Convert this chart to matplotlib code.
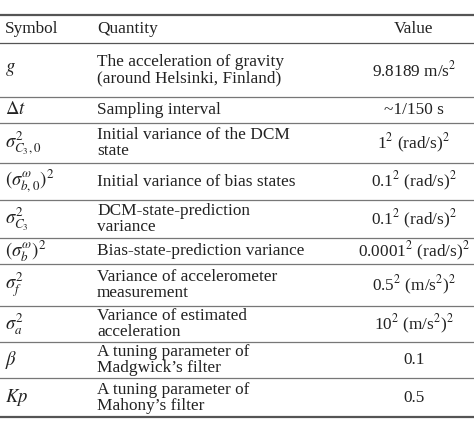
import matplotlib
matplotlib.use("Agg")
import matplotlib.pyplot as plt

plt.rcParams['font.family'] = ['Liberation Serif', 'DejaVu Serif']
plt.rcParams['mathtext.fontset'] = 'stix'

headers = ["Symbol", "Quantity", "Value"]
symbols = [r"$g$", r"$\Delta t$", r"$\sigma^2_{C_3,0}$", r"$(\sigma^{\omega}_{b,0})^2$",
           r"$\sigma^2_{C_3}$", r"$(\sigma^{\omega}_{b})^2$", r"$\sigma^2_f$", r"$\sigma^2_a$",
           r"$\beta$", r"$Kp$"]
quantities = ["The acceleration of gravity\n(around Helsinki, Finland)",
              "Sampling interval",
              "Initial variance of the DCM\nstate",
              "Initial variance of bias states",
              "DCM-state-prediction\nvariance",
              "Bias-state-prediction variance",
              "Variance of accelerometer\nmeasurement",
              "Variance of estimated\nacceleration",
              "A tuning parameter of\nMadgwick\u2019s filter",
              "A tuning parameter of\nMahony\u2019s filter"]
values = [r"9.8189 m/s$^2$", r"~1/150 s", r"1$^2$ (rad/s)$^2$", r"0.1$^2$ (rad/s)$^2$",
          r"0.1$^2$ (rad/s)$^2$", r"0.0001$^2$ (rad/s)$^2$", r"0.5$^2$ (m/s$^2$)$^2$",
          r"10$^2$ (m/s$^2$)$^2$", "0.1", "0.5"]
# row boundaries in pixels (layout)
bounds = [43, 97, 123, 163, 200, 238, 264, 306, 342, 378, 417]

W, H = 474, 445
fig = plt.figure(figsize=(W/100, H/100), dpi=100)
ax = fig.add_axes([0, 0, 1, 1])
ax.set_xlim(0, W); ax.set_ylim(H, 0); ax.axis('off')

fs = 12.4
ax.plot([0, W], [15, 15], color='#555555', lw=1.6)
ax.plot([0, W], [417, 417], color='#555555', lw=1.6)
ax.plot([0, W], [43, 43], color='#555555', lw=0.9)
for b in bounds[1:-1]:
    ax.plot([0, W], [b, b], color='#777777', lw=0.9)

ax.text(5, 29, headers[0], fontsize=fs, va='center', color='#222222')
ax.text(97, 29, headers[1], fontsize=fs, va='center', color='#222222')
ax.text(414, 29, headers[2], fontsize=fs, va='center', ha='center', color='#222222')

for i in range(len(symbols)):
    y0, y1 = bounds[i], bounds[i+1]
    yc = (y0 + y1) / 2
    ax.text(5, yc, symbols[i], fontsize=fs + 1, va='center', color='#222222')
    ax.text(97, yc, quantities[i], fontsize=fs, va='center', color='#222222', linespacing=1.0)
    ax.text(414, yc, values[i], fontsize=fs, va='center', ha='center', color='#222222')

fig.savefig("out.png", dpi=100, facecolor='white')
